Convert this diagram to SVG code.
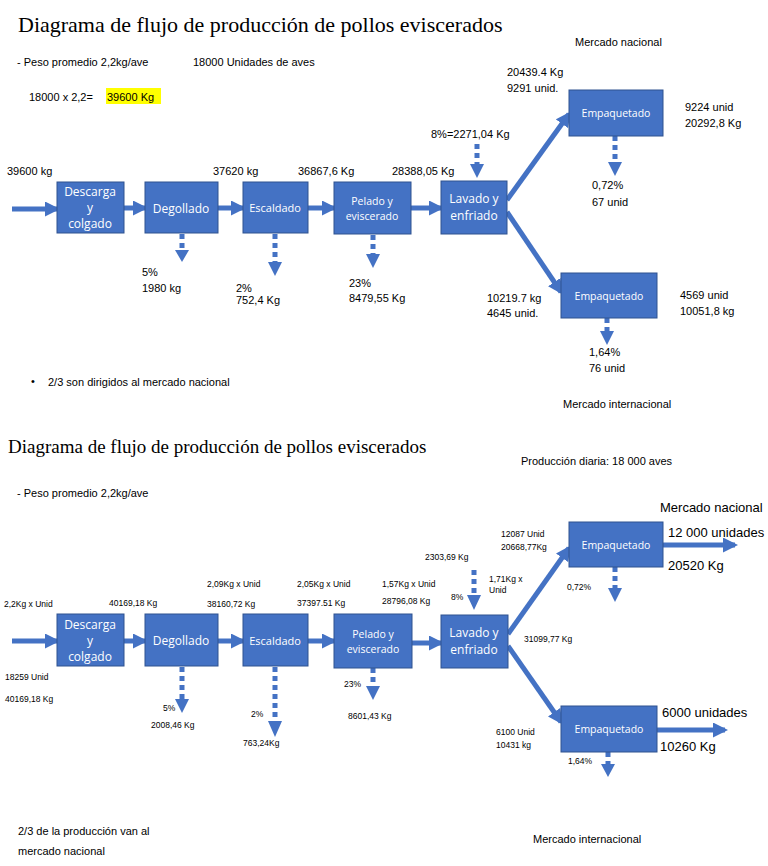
<svg xmlns="http://www.w3.org/2000/svg" width="768" height="866" viewBox="0 0 768 866">
<defs>
<style>
.b{fill:#4472C4;stroke:#2F528F;stroke-width:1}
.bt{font-family:"Open Sans","Liberation Sans",sans-serif;fill:#fff;text-anchor:middle}
.t{font-family:"Liberation Sans",sans-serif;font-size:11px;fill:#000}
.s{font-family:"Liberation Sans",sans-serif;font-size:8.5px;fill:#000}
.m{font-family:"Liberation Sans",sans-serif;font-size:13px;fill:#000}
.ti{font-family:"Liberation Serif",serif;fill:#000}
.a{stroke:#4472C4;stroke-width:5;fill:none;marker-end:url(#ah)}
.d{stroke:#4472C4;stroke-width:5;fill:none;stroke-dasharray:5 4}
.h{fill:#4472C4}
</style>
<marker id="ah" viewBox="0 0 10 10" refX="8" refY="5" markerWidth="3" markerHeight="3" orient="auto" markerUnits="strokeWidth"><path d="M0,0L10,5L0,10z" fill="#4472C4"/></marker>
</defs>
<rect width="768" height="866" fill="#fff"/>

<!-- TOP -->
<g id="texts-top">
<text class="ti" x="18" y="32" font-size="22">Diagrama de flujo de producción de pollos eviscerados</text>
<text class="t" x="17" y="66" font-size="13">- Peso promedio 2,2kg/ave</text>
<text class="t" x="193" y="66" font-size="13">18000 Unidades de aves</text>
<rect x="106" y="88" width="55" height="16" fill="#FFFF00"/>
<text class="t" x="29" y="101" font-size="13">18000 x 2,2=</text>
<text class="t" x="107" y="101" font-size="13">39600 Kg</text>
<text class="t" x="575" y="46">Mercado nacional</text>
<text class="t" x="507" y="76">20439.4 Kg</text><text class="t" x="507" y="92">9291 unid.</text>
<text class="t" x="685" y="111">9224 unid</text><text class="t" x="685" y="127">20292,8 Kg</text>
<text class="t" x="431" y="138">8%=2271,04 Kg</text>
<text class="t" x="7" y="175">39600 kg</text>
<text class="t" x="213" y="175">37620 kg</text>
<text class="t" x="298" y="175">36867,6 Kg</text>
<text class="t" x="392" y="175">28388,05 Kg</text>
<text class="t" x="592" y="189">0,72%</text><text class="t" x="592" y="206">67 unid</text>
<text class="t" x="142" y="276">5%</text><text class="t" x="142" y="292">1980 kg</text>
<text class="t" x="236" y="292">2%</text><text class="t" x="236" y="304">752,4 Kg</text>
<text class="t" x="349" y="287">23%</text><text class="t" x="349" y="302">8479,55 Kg</text>
<text class="t" x="487" y="302">10219.7 kg</text><text class="t" x="487" y="317">4645 unid.</text>
<text class="t" x="680" y="299">4569 unid</text><text class="t" x="680" y="315">10051,8 kg</text>
<text class="t" x="589" y="356">1,64%</text><text class="t" x="589" y="372">76 unid</text>
<text class="t" x="31" y="385" font-size="9">•</text>
<text class="t" x="48" y="386" font-size="10">2/3 son dirigidos al mercado nacional</text>
<text class="t" x="563" y="408">Mercado internacional</text>
</g>
<g id="connectors-top">
<line class="a" x1="12" y1="209" x2="57" y2="209"/>
<line class="a" x1="124" y1="208" x2="145" y2="208"/>
<line class="a" x1="218" y1="208" x2="243" y2="208"/>
<line class="a" x1="308" y1="208" x2="334" y2="208"/>
<line class="a" x1="411" y1="208" x2="441" y2="208"/>
<line class="a" x1="507" y1="200" x2="569" y2="114"/>
<line class="a" x1="507" y1="212" x2="561" y2="292"/>
<line class="d" x1="182" y1="234" x2="182" y2="252"/><polygon class="h" points="175,250 189,250 182,262"/>
<line class="d" x1="275" y1="234" x2="275" y2="264"/><polygon class="h" points="268,262 282,262 275,276"/>
<line class="d" x1="373" y1="235" x2="373" y2="256"/><polygon class="h" points="366,254 380,254 373,268"/>
<line class="d" x1="477" y1="144" x2="477" y2="166"/><polygon class="h" points="470,164 484,164 477,178"/>
<line class="d" x1="615" y1="136" x2="615" y2="164"/><polygon class="h" points="608,162 622,162 615,176"/>
<line class="d" x1="607" y1="318" x2="607" y2="333"/><polygon class="h" points="600,331 614,331 607,345"/>
</g>
<g id="n1"><rect class="b" x="57" y="182" width="67" height="51"/><text class="bt" font-size="12"><tspan x="90" y="196">Descarga</tspan><tspan x="90" y="212">y</tspan><tspan x="90" y="228">colgado</tspan></text></g>
<g id="n2"><rect class="b" x="145" y="182" width="73" height="51"/><text class="bt" x="181" y="213" font-size="12">Degollado</text></g>
<g id="n3"><rect class="b" x="243" y="182" width="65" height="51"/><text class="bt" x="275" y="212" font-size="11">Escaldado</text></g>
<g id="n4"><rect class="b" x="334" y="182" width="77" height="52"/><text class="bt" font-size="10.5"><tspan x="372" y="205">Pelado y</tspan><tspan x="372" y="220">eviscerado</tspan></text></g>
<g id="n5"><rect class="b" x="441" y="181" width="66" height="53"/><text class="bt" font-size="12"><tspan x="474" y="203">Lavado y</tspan><tspan x="474" y="220">enfriado</tspan></text></g>
<g id="n6"><rect class="b" x="569" y="90" width="94" height="46"/><text class="bt" x="616" y="117" font-size="10.5">Empaquetado</text></g>
<g id="n7"><rect class="b" x="561" y="273" width="96" height="45"/><text class="bt" x="609" y="300" font-size="10.5">Empaquetado</text></g>

<!-- BOTTOM -->
<g id="texts-bottom">
<text class="ti" x="8" y="453" font-size="19">Diagrama de flujo de producción de pollos eviscerados</text>
<text class="t" x="521" y="465" font-size="12">Producción diaria: 18 000 aves</text>
<text class="t" x="17" y="497" font-size="12">- Peso promedio 2,2kg/ave</text>
<text class="m" x="660" y="512">Mercado nacional</text>
<text class="m" x="668" y="537">12 000 unidades</text>
<text class="m" x="668" y="570" font-size="14">20520 Kg</text>
<text class="s" x="501" y="537">12087 Unid</text><text class="s" x="501" y="550">20668,77Kg</text>
<text class="s" x="425" y="560">2303,69 Kg</text>
<text class="s" x="489" y="582">1,71Kg x</text><text class="s" x="489" y="593">Unid</text>
<text class="s" x="451" y="600">8%</text>
<text class="s" x="567" y="590">0,72%</text>
<text class="s" x="207" y="587">2,09Kg x Unid</text><text class="s" x="207" y="607">38160,72 Kg</text>
<text class="s" x="297" y="587">2,05Kg x Unid</text><text class="s" x="297" y="606">37397.51 Kg</text>
<text class="s" x="382" y="587">1,57Kg x Unid</text><text class="s" x="382" y="604">28796,08 Kg</text>
<text class="s" x="4" y="607">2,2Kg x Unid</text>
<text class="s" x="109" y="606">40169,18 Kg</text>
<text class="s" x="524" y="642">31099,77 Kg</text>
<text class="s" x="5" y="680">18259 Unid</text><text class="s" x="5" y="702">40169,18 Kg</text>
<text class="s" x="163" y="711">5%</text><text class="s" x="151" y="728">2008,46 Kg</text>
<text class="s" x="251" y="717">2%</text><text class="s" x="243" y="746">763,24Kg</text>
<text class="s" x="344" y="687">23%</text><text class="s" x="348" y="719">8601,43 Kg</text>
<text class="m" x="662" y="717">6000 unidades</text>
<text class="m" x="660" y="751" font-size="14">10260 Kg</text>
<text class="s" x="496" y="735">6100 Unid</text><text class="s" x="496" y="748">10431 kg</text>
<text class="s" x="568" y="764">1,64%</text>
<text class="t" x="18" y="835" font-size="12">2/3 de la producción van al</text>
<text class="t" x="18" y="855" font-size="12">mercado nacional</text>
<text class="t" x="533" y="843" font-size="13">Mercado internacional</text>
</g>
<g id="connectors-bottom">
<line class="a" x1="12" y1="641" x2="57" y2="641"/>
<line class="a" x1="124" y1="641" x2="145" y2="641"/>
<line class="a" x1="218" y1="641" x2="243" y2="641"/>
<line class="a" x1="308" y1="641" x2="334" y2="641"/>
<line class="a" x1="412" y1="643" x2="441" y2="643"/>
<line class="a" x1="508" y1="634" x2="569" y2="548"/>
<line class="a" x1="508" y1="646" x2="561" y2="722"/>
<line class="a" x1="663" y1="545" x2="735" y2="545"/>
<line class="a" x1="657" y1="730" x2="725" y2="730"/>
<line class="d" x1="182" y1="667" x2="182" y2="701"/><polygon class="h" points="175,699 189,699 182,713"/>
<line class="d" x1="275" y1="667" x2="275" y2="723"/><polygon class="h" points="268,721 282,721 275,737"/>
<line class="d" x1="373" y1="668" x2="373" y2="688"/><polygon class="h" points="366,686 380,686 373,700"/>
<line class="d" x1="474" y1="570" x2="474" y2="597"/><polygon class="h" points="467,595 481,595 474,610"/>
<line class="d" x1="615" y1="567" x2="615" y2="590"/><polygon class="h" points="608,588 622,588 615,602"/>
<line class="d" x1="608" y1="752" x2="608" y2="766"/><polygon class="h" points="601,764 615,764 608,777"/>
</g>
<g id="m1"><rect class="b" x="57" y="614" width="67" height="52"/><text class="bt" font-size="12"><tspan x="90" y="629">Descarga</tspan><tspan x="90" y="645">y</tspan><tspan x="90" y="661">colgado</tspan></text></g>
<g id="m2"><rect class="b" x="145" y="614" width="73" height="52"/><text class="bt" x="181" y="645" font-size="12">Degollado</text></g>
<g id="m3"><rect class="b" x="243" y="614" width="65" height="52"/><text class="bt" x="275" y="645" font-size="11">Escaldado</text></g>
<g id="m4"><rect class="b" x="334" y="614" width="78" height="54"/><text class="bt" font-size="10.5"><tspan x="373" y="638">Pelado y</tspan><tspan x="373" y="653">eviscerado</tspan></text></g>
<g id="m5"><rect class="b" x="441" y="615" width="67" height="53"/><text class="bt" font-size="12"><tspan x="474" y="637">Lavado y</tspan><tspan x="474" y="654">enfriado</tspan></text></g>
<g id="m6"><rect class="b" x="569" y="522" width="94" height="45"/><text class="bt" x="616" y="549" font-size="10.5">Empaquetado</text></g>
<g id="m7"><rect class="b" x="561" y="706" width="96" height="46"/><text class="bt" x="609" y="733" font-size="10.5">Empaquetado</text></g>
</svg>
